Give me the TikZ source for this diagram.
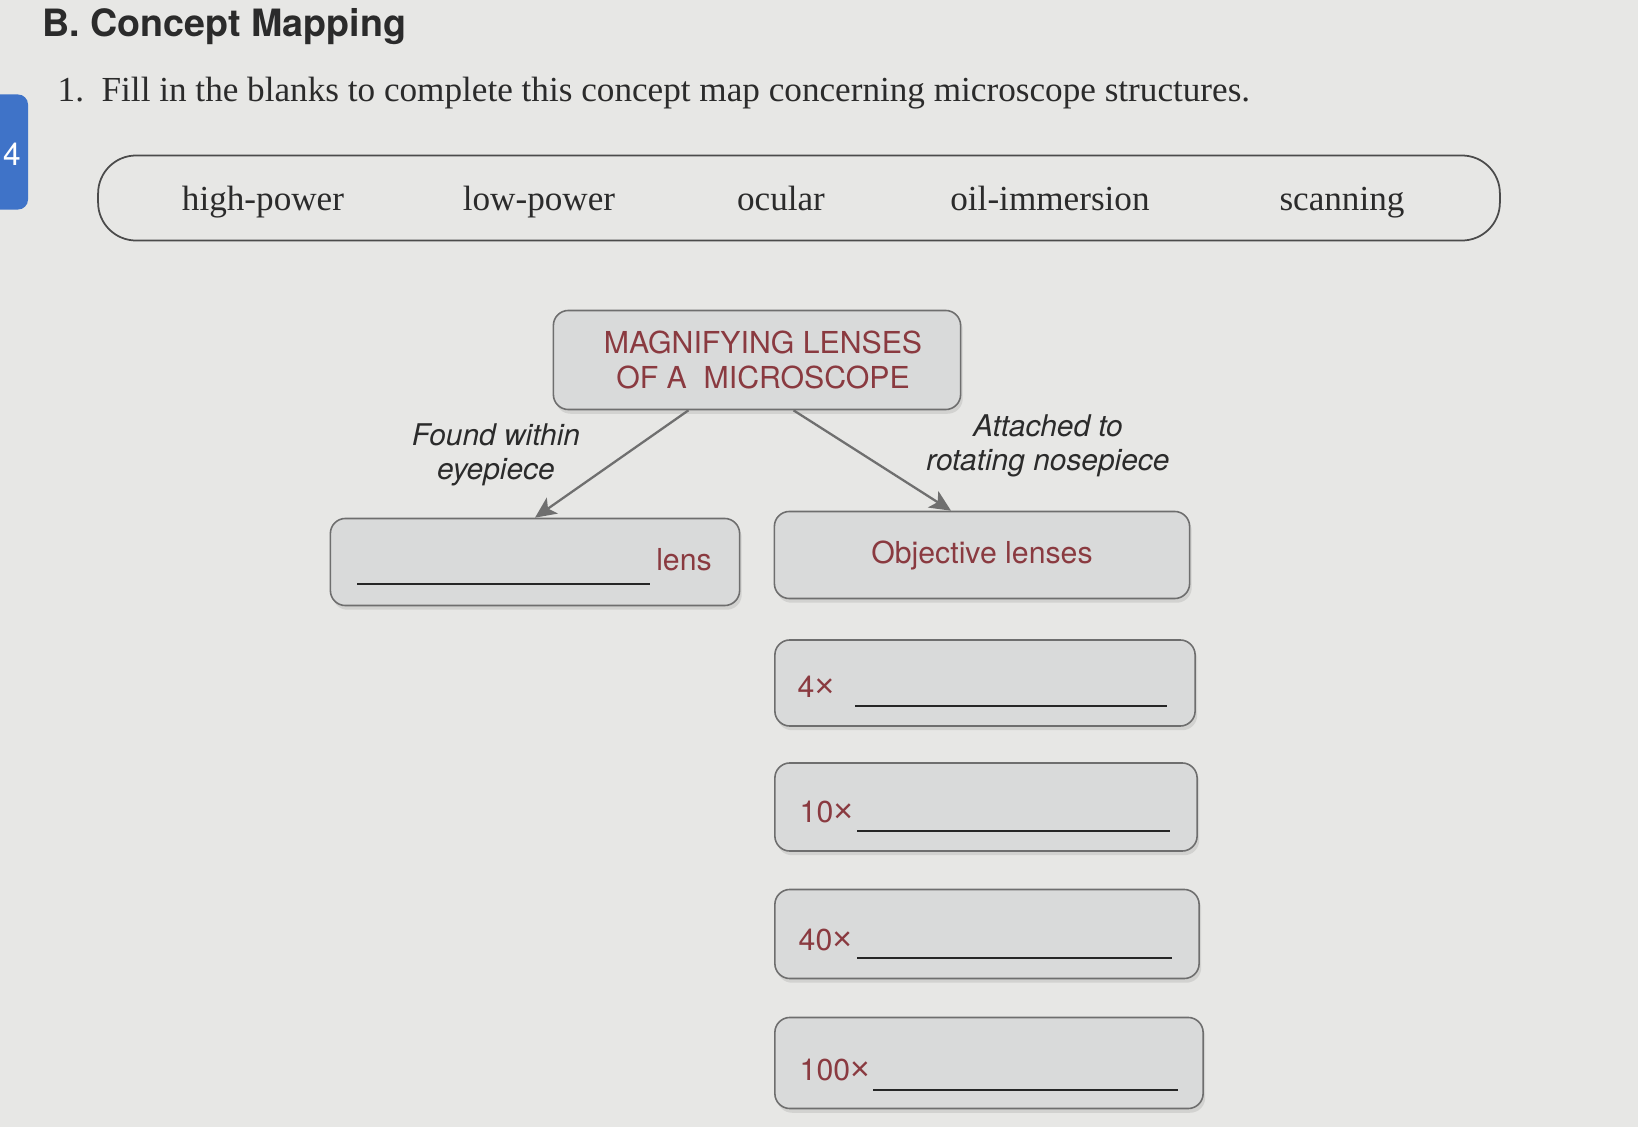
\documentclass[tikz,border=0pt]{standalone}
\usepackage{fontspec}
\setmainfont{Liberation Serif}
\setsansfont{TeX Gyre Heros}
\newfontfamily\arialfont{Liberation Sans}
\usetikzlibrary{arrows.meta,shadows,calc}
\definecolor{paper}{HTML}{E7E7E5}
\definecolor{boxfill}{HTML}{D9DADA}
\definecolor{boxline}{HTML}{6E6E6E}
\definecolor{maroonink}{HTML}{8A3A40}
\definecolor{ink}{HTML}{2B2B2B}
\definecolor{arrowgray}{HTML}{6F6F6F}
\definecolor{tabblue}{HTML}{3F73C8}
\newcommand{\mtimes}{{\arialfont\fontsize{9.6pt}{10pt}\selectfont ×}}
\begin{document}
\begin{tikzpicture}[x=0.01cm,y=-0.01cm,
  mapbox/.style={draw=boxline, line width=0.45pt, fill=boxfill, rounded corners=0.15cm, inner sep=0pt,
    drop shadow={opacity=0.2, shadow xshift=0.6pt, shadow yshift=-1.2pt}},
  boxtext/.style={text=maroonink, font=\sffamily\fontsize{8.6pt}{9.8pt}\selectfont, inner sep=0pt},
  linklabel/.style={text=ink, font=\sffamily\itshape\fontsize{8.5pt}{9.8pt}\selectfont, align=center, inner sep=0pt},
  bankword/.style={text=ink, font=\fontsize{10pt}{12pt}\selectfont, anchor=base, inner sep=0pt},
  blankline/.style={draw=black!85, line width=0.6pt},
  linkarrow/.style={draw=arrowgray, line width=0.65pt, -{Stealth[length=6pt,width=5.5pt,inset=1.5pt,fill=arrowgray]}}
]
\fill[paper] (0,0) rectangle (1638,1127);
\useasboundingbox (0,0) rectangle (1638,1127);

% side tab
\node[fill=tabblue, rounded corners=0.1cm, minimum width=0.56cm, minimum height=1.15cm, inner sep=0pt] (tab) at (0,152) {};
\node[text=white, font=\sffamily\fontsize{9pt}{10pt}\selectfont, inner sep=0pt] (tabnum) at (12,154) {4};

% headings
\node[anchor=base west, inner sep=0pt, text=ink, font=\sffamily\bfseries\fontsize{10.7pt}{12pt}\selectfont] (title) at (42,37) {B. Concept Mapping};
\node[anchor=base west, inner sep=0pt, text=ink, font=\fontsize{10pt}{12pt}\selectfont] (instr) at (57,101) {1.\ \ Fill in the blanks to complete this concept map concerning microscope structures.};

% word bank
\node[draw=ink!85, line width=0.5pt, rounded corners=0.38cm, minimum width=14.01cm, minimum height=0.85cm, inner sep=0pt] (bank) at (799,198) {};
\node[bankword] (w1) at (263,210) {high-power};
\node[bankword] (w2) at (539,210) {low-power};
\node[bankword] (w3) at (781,210) {ocular};
\node[bankword] (w4) at (1050,210) {oil-immersion};
\node[bankword] (w5) at (1342,210) {scanning};

% main concept
\node[mapbox, minimum width=4.07cm, minimum height=0.99cm] (main) at (757,360) {};
\node[boxtext, align=center] (maintext) at (763,360) {MAGNIFYING LENSES\\OF A\ \ MICROSCOPE};

% ocular lens box
\node[mapbox, minimum width=4.09cm, minimum height=0.87cm] (lensbox) at (535,562) {};
\node[boxtext] (lenstext) at (684,560) {lens};
\draw[blankline] (357,584) -- (650,584);

% objective lenses box
\node[mapbox, minimum width=4.15cm, minimum height=0.87cm] (objbox) at (982,555) {};
\node[boxtext] (objtext) at (objbox.center) {Objective lenses};

% magnification boxes
\node[mapbox, minimum width=4.2cm, minimum height=0.86cm] (m4) at (985,683) {};
\node[boxtext, anchor=west] (m4t) at (797,687) {4\mtimes};
\draw[blankline] (855,706) -- (1167,706);

\node[mapbox, minimum width=4.22cm, minimum height=0.88cm] (m10) at (986,807) {};
\node[boxtext, anchor=west] (m10t) at (799,812) {10\mtimes};
\draw[blankline] (857,831) -- (1170,831);

\node[mapbox, minimum width=4.24cm, minimum height=0.89cm] (m40) at (987,934) {};
\node[boxtext, anchor=west] (m40t) at (798,940) {40\mtimes};
\draw[blankline] (857,958) -- (1172,958);

\node[mapbox, minimum width=4.28cm, minimum height=0.91cm] (m100) at (989,1063) {};
\node[boxtext, anchor=west] (m100t) at (799,1070) {100\mtimes};
\draw[blankline] (873,1090) -- (1178,1090);

% link labels
\node[linklabel] (found) at (496,455) {Found within\\eyepiece};
\node[linklabel] (attached) at (1048,446) {Attached to\\rotating nosepiece};

% connectors
\draw[linkarrow] ([xshift=-0.685cm]main.south) -- (lensbox.north);
\draw[linkarrow] ([xshift=0.365cm]main.south) -- ([xshift=-0.31cm]objbox.north);
\end{tikzpicture}
\end{document}
